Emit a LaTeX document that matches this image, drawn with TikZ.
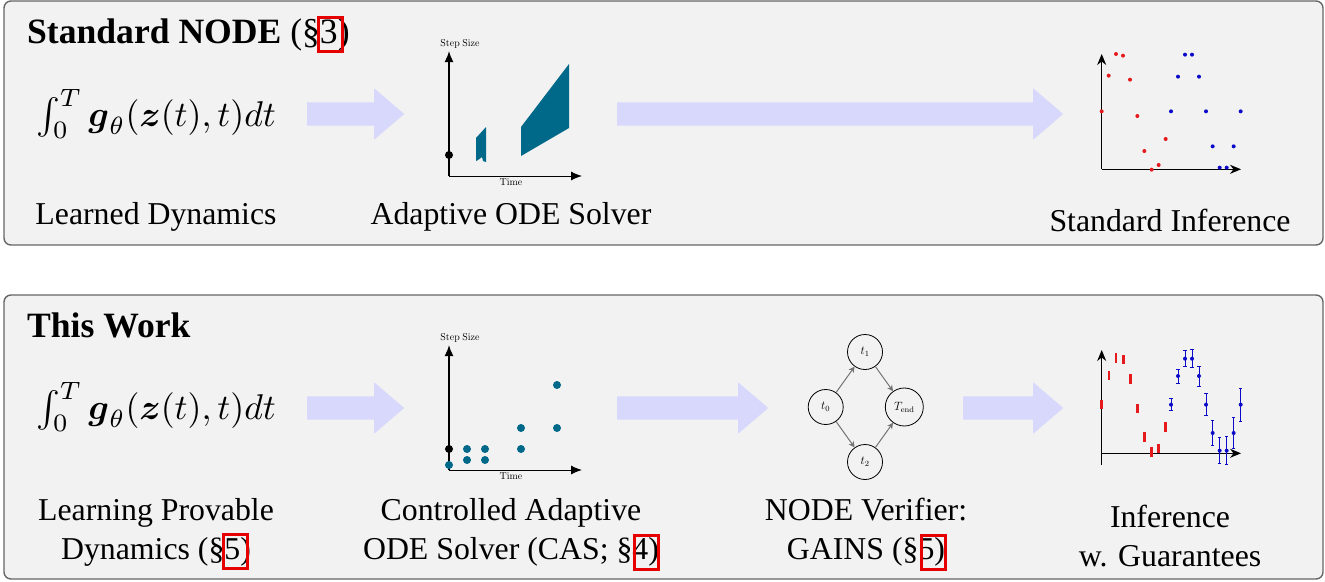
\documentclass[tikz,border=0pt]{standalone}
\usepackage{amsmath, amssymb}
\usepackage[no-math]{fontspec}
\setmainfont{Liberation Serif}
\usepackage{xcolor}
\usetikzlibrary{shapes, arrows, positioning, arrows.meta, calc}

\definecolor{panelgray}{HTML}{F2F2F2}
\definecolor{panelline}{HTML}{666666}
\definecolor{flowblue}{HTML}{D7D8FC}
\definecolor{stepteal}{HTML}{006888}
\definecolor{linkred}{HTML}{E60000}
\definecolor{lowred}{HTML}{E41A1C}
\definecolor{highblue}{HTML}{0A0AC8}

\begin{document}
\begin{tikzpicture}[
        x=1pt, y=-1pt,
        panel/.style={draw=panelline, line width=1.4pt, fill=panelgray, rounded corners=7pt},
        flow/.style={single arrow, anchor=tail, fill=flowblue, inner xsep=0pt, inner ysep=11.5pt, single arrow head extend=14pt, single arrow tip angle=81},
        heading/.style={anchor=base west, inner sep=0pt, font=\fontsize{35.6}{40}\selectfont\bfseries},
        caption/.style={align=center, inner sep=0pt, font=\fontsize{31.8}{39}\selectfont},
        seclink/.style={draw=linkred, line width=3pt, inner sep=0pt, minimum width=24pt, minimum height=34pt},
        axis/.style={-{Latex[length=11pt, width=9pt]}, line width=1.6pt},
        thinaxis/.style={-{Stealth[length=11pt, width=9pt]}, line width=1pt},
        state/.style={circle, draw, line width=0.8pt, minimum size=35pt, inner sep=0pt, font=\large},
        link/.style={-{Stealth[length=6pt, width=6pt]}, draw=black!55, line width=1pt}
    ]
        \useasboundingbox (0,0) rectangle (1325,581);

        % Panels
        \draw[panel] (4,1) rectangle (1323,245);
        \draw[panel] (4,295) rectangle (1323,579);

        \node[heading] (titleA) at (27,43) {Standard NODE {\mdseries (§3)}};
        \node[heading] (titleB) at (27,337) {This Work};

        \node[scale=3.58] (dynA) at (156,114) {$\int_0^T \boldsymbol{g}_\theta(\boldsymbol{z}(t),t)dt$};
        \node[scale=3.58] (dynB) at (156,407) {$\int_0^T \boldsymbol{g}_\theta(\boldsymbol{z}(t),t)dt$};

        % Block arrows
        \node[flow, minimum height=97pt] (flowA) at (307,114) {};
        \node[flow, minimum height=446pt] (flowB) at (617,114) {};
        \node[flow, minimum height=97pt] (flowC) at (307,408) {};
        \node[flow, minimum height=151pt] (flowD) at (617,408) {};
        \node[flow, minimum height=100pt] (flowE) at (963,408) {};

        % Captions
        \node[caption] (capA) at (156,217) {Learned Dynamics};
        \node[caption] (capB) at (511,217) {Adaptive ODE Solver};
        \node[caption] (capC) at (1170,220) {Standard Inference};
        \node[caption] (capD) at (156,532) {Learning Provable\\Dynamics (§5)};
        \node[caption] (capE) at (511,532) {Controlled Adaptive\\ODE Solver (CAS; §4)};
        \node[caption] (capF) at (866,532) {NODE Verifier:\\GAINS (§5)};
        \node[caption] (capG) at (1170,536) {Inference\\w. Guarantees};

        % Section links
        \node[seclink] (linkA) at (330,34) {};
        \node[seclink] (linkB) at (235,551) {};
        \node[seclink] (linkC) at (646,552) {};
        \node[seclink] (linkD) at (933,552) {};

        % Step size plot, top
        \fill[stepteal] (476,138) -- (486,127) -- (486,162) -- (483,161) -- (482,157) -- (478,160) -- (476,161) -- cycle;
        \fill[stepteal] (521,127) -- (569,64) -- (569,128) -- (521,156) -- cycle;
        \fill[stepteal] (448,158) rectangle (450,166);
        \draw[axis] (449,176) -- (449,51);
        \draw[axis, line width=1pt] (449,176) -- (582,176);
        \fill (449,155) circle[radius=4pt];
        \node (stepA) at (460,44) {$\mathrm{Step\ Size}$};
        \node (timeA) at (511,182) {$\mathrm{Time}$};

        % Step size plot, bottom
        \draw[axis] (449,470) -- (449,345);
        \draw[axis, line width=1pt] (449,470) -- (582,470);
        \foreach \px/\py in {449/465, 467/449, 485/449, 467/460, 485/460, 521/449, 521/428, 557/428, 557/385}
            \fill[stepteal] (\px,\py) circle[radius=4pt];
        \fill (449,449) circle[radius=4pt];
        \node (stepB) at (460,338) {$\mathrm{Step\ Size}$};
        \node (timeB) at (511,476) {$\mathrm{Time}$};

        % Verifier graph
        \node[state] (t0) at (825.7,407) {$t_0$};
        \node[state, on grid, above right=55pt and 39.3pt of t0] (t1) {$t_1$};
        \node[state, on grid, below right=55pt and 39.3pt of t0] (t2) {$t_2$};
        \node[state, on grid, minimum size=38pt, right=78.6pt of t0] (tend) {$T_{\mathrm{end}}$};
        \draw[link] (t0) -- (t1);
        \draw[link] (t0) -- (t2);
        \draw[link] (t1) -- (tend);
        \draw[link] (t2) -- (tend);

        % Scatter, top
        \draw[thinaxis] (1101.7,169.3) -- (1101.7,54);
        \draw[thinaxis] (1101.7,169.3) -- (1241,169.3);
        \foreach \px/\py in {65/214, 86/107, 108/42, 129/47, 150/119, 172/228, 193/333, 215/389, 236/375, 257/297}
            \fill[lowred] ({1080+\px/3},{40+\py/3}) circle[radius=2pt];
        \foreach \px/\py in {273/214, 294/110, 315/44, 336/44, 357/110, 378/214, 398/319, 419/383, 440/383, 461/319, 482/214}
            \fill[highblue] ({1080+\px/3},{40+\py/3}) circle[radius=2pt];

        % Scatter with bounds, bottom
        \draw[thinaxis] (1101.7,465) -- (1101.7,350);
        \draw[thinaxis] (1101.7,453.3) -- (1241,453.3);
        \foreach \px/\pa/\pb in {65/180/207, 87/93/120, 108/40/68, 130/45/72, 151/102/132, 172/192/219, 193/277/305, 214/321/351, 235/312/340, 257/246/276}
            \fill[lowred] ({1080+\px/3-1.4},{340+\pa/3}) rectangle ({1080+\px/3+1.4},{340+\pb/3});
        \foreach \px/\pa/\pm/\pb in {273/175/194/212, 294/88/108/130, 315/30/56/80, 336/28/56/83, 357/79/108/139, 378/160/194/226, 398/241/279/317, 419/292/332/371, 440/289/332/374, 461/232/279/326, 482/145/194/245} {
            \draw[highblue, line width=0.8pt] ({1080+\px/3},{340+\pa/3}) -- ({1080+\px/3},{340+\pb/3});
            \draw[highblue, line width=0.6pt] ({1080+\px/3-1.6},{340+\pa/3}) -- ({1080+\px/3+1.6},{340+\pa/3});
            \draw[highblue, line width=0.6pt] ({1080+\px/3-1.6},{340+\pb/3}) -- ({1080+\px/3+1.6},{340+\pb/3});
            \fill[highblue] ({1080+\px/3},{340+\pm/3}) circle[radius=2pt];
        }
    \end{tikzpicture}
\end{document}
